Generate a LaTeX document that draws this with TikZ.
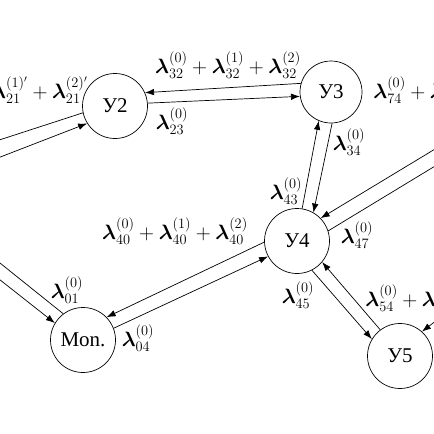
\documentclass[tikz,border=0pt]{standalone}
\usepackage{amsmath}
\usepackage{fontspec}
\setmainfont{Liberation Serif}
\usetikzlibrary{arrows.meta}

\newcommand{\lmb}{\boldsymbol{\lambda}}

\begin{document}
\begin{tikzpicture}[x=1pt, y=-1pt, line width=0.7pt,
                    >={Latex[length=9pt,width=6.5pt]},
                    font=\fontsize{19.5}{22}\selectfont,
                    uzel/.style={draw, circle, minimum size=65pt, inner sep=0pt,
                                 font=\fontsize{21}{24}\selectfont}]
                \useasboundingbox (0,0) rectangle (434,434);
                % stations
                \node[uzel] (u2) at (115,106) {У2};
                \node[uzel, minimum size=62pt] (u3) at (331,92) {У3};
                \node[uzel] (u4) at (297,241) {У4};
                \node[uzel] (u5) at (400,356) {У5};
                \node[uzel] (mon) at (83,340) {Mon.};
                % ends that leave the picture
                \coordinate (w2a) at (-10,143);
                \coordinate (w2b) at (-10,161);
                \coordinate (e4a) at (450,140);
                \coordinate (e4b) at (450,157);
                \coordinate (w0a) at (-10,255);
                \coordinate (w0b) at (-10,272);
                \coordinate (e5) at (450,310);
                % flows
                \draw[->] (u3.164) -- (u2.24);
                \draw[->] (u2.5) -- (u3.188);
                \draw[->] (u4.81) -- (u3.247);
                \draw[->] (u3.272) -- (u4.60);
                \draw[->] (u4.182) -- (mon.44);
                \draw[->] (mon.21) -- (u4.208);
                \draw[->] (u4.297) -- (u5.149);
                \draw[->] (u5.127) -- (u4.320);
                \draw (w2a) -- (u2.192);
                \draw[->] (w2b) -- (u2.212);
                \draw[->] (e4a) -- (u4.44);
                \draw (e4b) -- (u4.18);
                \draw (w0a) -- (mon.127);
                \draw[->] (w0b) -- (mon.149);
                \draw[->] (e5) -- (u5.48);
                % rates
                \node (l21) at (40,90) {$\lmb^{(1)'}_{21}+\lmb^{(2)'}_{21}$};
                \node (l32) at (228,65) {$\lmb^{(0)}_{32}+\lmb^{(1)}_{32}+\lmb^{(2)}_{32}$};
                \node (l23) at (172,121) {$\lmb^{(0)}_{23}$};
                \node[anchor=west, inner sep=0pt] (l74) at (373,90) {$\lmb^{(0)}_{74}+\lmb^{(1)}_{74}$};
                \node (l34) at (349,142) {$\lmb^{(0)}_{34}$};
                \node (l43) at (286,191) {$\lmb^{(0)}_{43}$};
                \node (l40) at (175,231) {$\lmb^{(0)}_{40}+\lmb^{(1)}_{40}+\lmb^{(2)}_{40}$};
                \node (l47) at (357,235) {$\lmb^{(0)}_{47}$};
                \node (l01) at (67,290) {$\lmb^{(0)}_{01}$};
                \node (l04) at (138,338) {$\lmb^{(0)}_{04}$};
                \node (l45) at (298,295) {$\lmb^{(0)}_{45}$};
                \node[anchor=west, inner sep=0pt] (l54) at (365,298) {$\lmb^{(0)}_{54}+\lmb^{(1)}_{54}$};
            \end{tikzpicture}
\end{document}
